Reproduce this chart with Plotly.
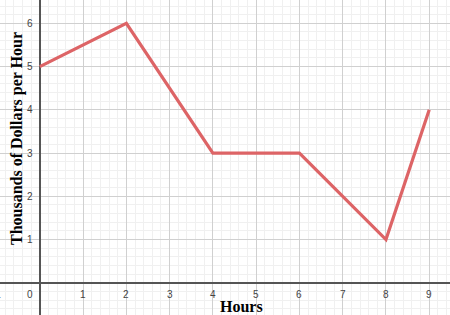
import plotly.graph_objects as go

hours = [0, 2, 4, 6, 8, 9]
values = [5, 6, 3, 3, 1, 4]
x_ticks = [1, 2, 3, 4, 5, 6, 7, 8, 9]
y_ticks = [1, 2, 3, 4, 5, 6]
x_title = "Hours"
y_title = "Thousands of Dollars per Hour"

W, H = 450, 315
X0, X1 = -0.92, 9.48
Y0, Y1 = -0.746, 6.54

fig = go.Figure()
fig.add_trace(go.Scatter(x=hours, y=values, mode="lines",
                         line=dict(color="#dd6466", width=3.2), hoverinfo="skip"))

tick_font = dict(family="Arial, Liberation Sans, sans-serif", size=10, color="#444")
ann = []
for t in x_ticks:
    ann.append(dict(x=t, y=0, xref="x", yref="y", text=str(t), showarrow=False,
                    xanchor="center", yanchor="top", yshift=-4, font=tick_font))
for t in y_ticks:
    ann.append(dict(x=0, y=t, xref="x", yref="y", text=str(t), showarrow=False,
                    xanchor="right", yanchor="middle", xshift=-5, font=tick_font))
ann.append(dict(x=0, y=0, xref="x", yref="y", text="0", showarrow=False,
                xanchor="right", yanchor="top", xshift=-5, yshift=-4, font=tick_font))
# -1 label lies just outside the visible x range, place in paper coords
ann.append(dict(x=(-1 - X0) / (X1 - X0), y=(0 - Y0) / (Y1 - Y0), xref="paper", yref="paper",
                text="-1", showarrow=False, xanchor="center", yanchor="top", yshift=-4,
                font=tick_font))

title_font = dict(family="Liberation Serif, Times New Roman, serif", size=16, color="black")
ann.append(dict(x=241 / W, y=1 - 306 / H, xref="paper", yref="paper",
                text="<b>" + x_title + "</b>", showarrow=False,
                xanchor="center", yanchor="middle", font=title_font))
ann.append(dict(x=17 / W, y=1 - 139 / H, xref="paper", yref="paper",
                text="<b>" + y_title + "</b>", textangle=-90,
                showarrow=False, xanchor="center", yanchor="middle", font=title_font))

fig.update_layout(
    width=W, height=H, margin=dict(l=0, r=0, t=0, b=0),
    plot_bgcolor="white", paper_bgcolor="white", showlegend=False,
    annotations=ann,
)

axis_common = dict(dtick=1, tick0=0, showticklabels=False,
                   showgrid=True, gridcolor="#d0d0d0", gridwidth=1,
                   zeroline=True, zerolinecolor="#555", zerolinewidth=1.6,
                   minor=dict(dtick=0.2, tick0=0, showgrid=True, gridcolor="#f0f0f0", gridwidth=1),
                   fixedrange=True)
fig.update_xaxes(range=[X0, X1], **axis_common)
fig.update_yaxes(range=[Y0, Y1], **axis_common)

fig.write_html("out.html")
